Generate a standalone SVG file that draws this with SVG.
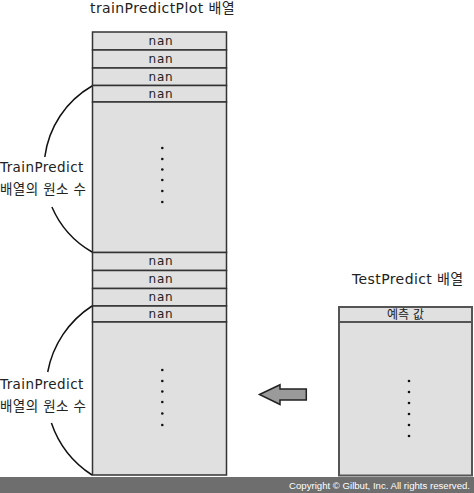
<svg xmlns="http://www.w3.org/2000/svg" width="474" height="493" viewBox="0 0 474 493">
<style>
.cell{fill:#e0e0e0;stroke:#333;stroke-width:1.5}
.rbox{fill:#e0e0e0;stroke:#555;stroke-width:2}
.t{font-family:"DejaVu Sans","Noto Sans CJK KR",sans-serif;fill:#222}
.lbl{font-size:13.5px;letter-spacing:0.4px}
.nan{font-family:"DejaVu Sans","Noto Sans CJK KR",sans-serif;font-size:12px;letter-spacing:0.8px;fill:#222;text-anchor:middle}
.dot{fill:#111}
.arc{fill:none;stroke:#111;stroke-width:1.5}
</style>
<rect width="474" height="493" fill="#fff"/>
<text class="t" x="90" y="13" font-size="14" letter-spacing="0.4">trainPredictPlot 배열</text>
<g id="train-array">
<rect class="cell" x="92.5" y="32" width="134" height="18"/>
<rect class="cell" x="92.5" y="50" width="134" height="18"/>
<rect class="cell" x="92.5" y="68" width="134" height="17.5"/>
<rect class="cell" x="92.5" y="85.5" width="134" height="16.5"/>
<rect class="cell" x="92.5" y="102" width="134" height="150.5"/>
<rect class="cell" x="92.5" y="252.5" width="134" height="18"/>
<rect class="cell" x="92.5" y="270.5" width="134" height="18"/>
<rect class="cell" x="92.5" y="288.5" width="134" height="17.5"/>
<rect class="cell" x="92.5" y="306" width="134" height="16"/>
<rect class="cell" x="92.5" y="322" width="134" height="153"/>
<text class="nan" x="161" y="45">nan</text>
<text class="nan" x="161" y="63">nan</text>
<text class="nan" x="161" y="81">nan</text>
<text class="nan" x="161" y="98">nan</text>
<text class="nan" x="161" y="265">nan</text>
<text class="nan" x="161" y="283">nan</text>
<text class="nan" x="161" y="301">nan</text>
<text class="nan" x="161" y="318">nan</text>
<g class="dot">
<circle cx="162.3" cy="148" r="1.3"/><circle cx="162.3" cy="159" r="1.3"/><circle cx="162.3" cy="169.5" r="1.3"/><circle cx="162.3" cy="180" r="1.3"/><circle cx="162.3" cy="191" r="1.3"/><circle cx="162.3" cy="202" r="1.3"/>
<circle cx="162.3" cy="370" r="1.3"/><circle cx="162.3" cy="381" r="1.3"/><circle cx="162.3" cy="391.5" r="1.3"/><circle cx="162.3" cy="402" r="1.3"/><circle cx="162.3" cy="413.5" r="1.3"/><circle cx="162.3" cy="425" r="1.3"/>
</g>
</g>
<g id="brace-1">
<path class="arc" d="M92,86 A95.8,95.8 0 0 0 44.8,157"/>
<path class="arc" d="M51.9,207 A95.8,95.8 0 0 0 92,252"/>
<text class="t lbl" x="0" y="172">TrainPredict</text>
<text class="t lbl" x="0" y="194">배열의 원소 수</text>
</g>
<g id="brace-2">
<path class="arc" d="M92,306 A100.6,100.6 0 0 0 47.7,372"/>
<path class="arc" d="M51.4,423 A100.6,100.6 0 0 0 92,475"/>
<text class="t lbl" x="0" y="389">TrainPredict</text>
<text class="t lbl" x="0" y="411">배열의 원소 수</text>
</g>
<text class="t" x="352" y="284" font-size="14" letter-spacing="0.4">TestPredict 배열</text>
<g id="test-array">
<rect class="rbox" x="339" y="307" width="133" height="15"/>
<rect class="rbox" x="339" y="322" width="133" height="153.5"/>
<text class="t" x="405.5" y="319" font-size="12" text-anchor="middle">예측 값</text>
<g class="dot">
<circle cx="409" cy="381" r="1.3"/><circle cx="409" cy="392" r="1.3"/><circle cx="409" cy="403" r="1.3"/><circle cx="409" cy="414" r="1.3"/><circle cx="409" cy="425" r="1.3"/><circle cx="409" cy="436" r="1.3"/>
</g>
</g>
<g id="connectors">
<polygon points="259.5,394.5 280,384.7 280,389 306.3,389 306.3,400 280,400 280,404.5" fill="#9a9a9a" stroke="#222" stroke-width="1.5" stroke-linejoin="miter"/>
</g>
<rect x="0" y="477" width="474" height="16" fill="#6e6e6e"/>
<text x="470" y="489" font-family="Liberation Sans, Arial, sans-serif" font-size="9.6" fill="#fff" text-anchor="end">Copyright © Gilbut, Inc. All rights reserved.</text>
</svg>
